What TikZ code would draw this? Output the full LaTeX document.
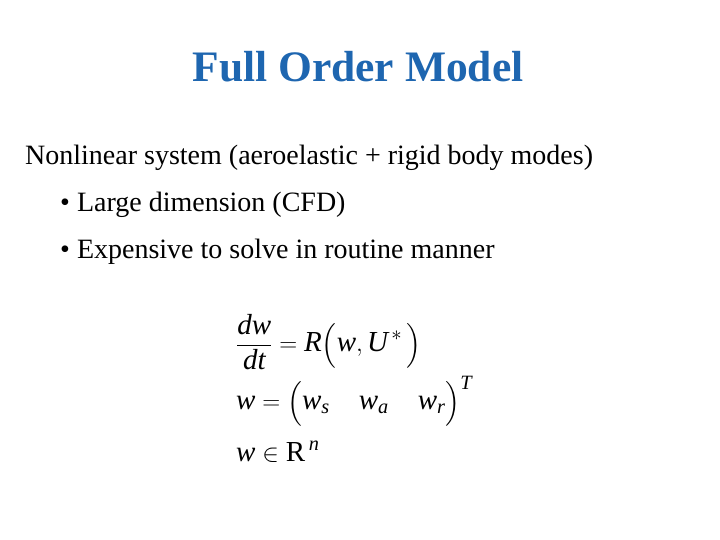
\documentclass[tikz,border=0pt]{standalone}
\usepackage{amsmath}
\usepackage{fontspec}
\setmainfont{Liberation Serif}
\definecolor{titleblue}{HTML}{1E66B0}
\newcommand{\ti}[1]{\text{\itshape #1}}
\begin{document}
\begin{tikzpicture}[x=1pt,y=-1pt,
  body/.style={anchor=west,inner sep=0pt,font=\fontsize{28}{32}\selectfont},
  eq/.style={anchor=west,inner sep=0pt,font=\fontsize{29}{34}\selectfont}]
\useasboundingbox (0,0) rectangle (720,540);
\node[font=\fontsize{43.5}{50}\selectfont\bfseries,text=titleblue] (title) at (358,67) {Full Order Model};
\node[body] (l1) at (25,158) {Nonlinear system (aeroelastic + rigid body modes)};
\node[body] (l2) at (60,205) {\textbullet\ Large dimension (CFD)};
\node[body] (l3) at (60,252) {\textbullet\ Expensive to solve in routine manner};
\node[eq] (e1) at (236,342) {$\displaystyle\frac{\ti{dw}}{\ti{dt}} = \ti{R}\Bigl(\ti{w},\ti{U}^{\,*}\,\Bigr)$};
\node[eq] (e2) at (236,401) {$\ti{w} = \Bigl(\ti{w}_{\ti{s}}\quad \ti{w}_{\ti{a}}\quad \ti{w}_{\ti{r}}\Bigr)^{\ti{T}}$};
\node[eq] (e3) at (236,452) {$\ti{w} \in \text{R}^{\,\ti{n}}$};
\end{tikzpicture}
\end{document}
